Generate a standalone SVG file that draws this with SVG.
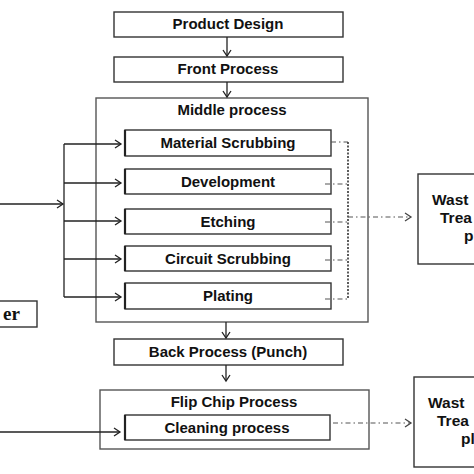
<svg xmlns="http://www.w3.org/2000/svg" width="474" height="474" viewBox="0 0 474 474">
<style>
.box{fill:#fff;stroke:#333;stroke-width:1.4}
.outer{fill:#fff;stroke:#555;stroke-width:1.4}
.t{font-family:"Liberation Sans",Arial,sans-serif;font-weight:bold;font-size:15px;fill:#111;text-anchor:middle}
.w{font-family:"Liberation Sans",Arial,sans-serif;font-weight:bold;font-size:15.5px;fill:#111}
.ln{fill:none;stroke:#222;stroke-width:1.3}
.dd{fill:none;stroke:#555;stroke-width:1.2;stroke-dasharray:5 3 1.5 3}
.dot{fill:none;stroke:#333;stroke-width:1.6;stroke-dasharray:2 1.5}
</style>
<defs>
<marker id="ah" markerWidth="10" markerHeight="10" refX="8" refY="5" orient="auto" markerUnits="userSpaceOnUse">
<path d="M2,1 L8,5 L2,9" fill="none" stroke="#222" stroke-width="1.3"/>
</marker>
<marker id="ahg" markerWidth="10" markerHeight="10" refX="8" refY="5" orient="auto" markerUnits="userSpaceOnUse">
<path d="M2,1 L8,5 L2,9" fill="none" stroke="#444" stroke-width="1.3"/>
</marker>
</defs>
<rect width="474" height="474" fill="#fff"/>

<g id="product-design"><rect class="box" x="114" y="12" width="229" height="25"/><text class="t" x="228" y="29">Product  Design</text></g>
<g id="front-process"><rect class="box" x="114" y="57" width="229" height="25"/><text class="t" x="228" y="74">Front  Process</text></g>
<g id="middle-process"><rect class="outer" x="96" y="98" width="272" height="224"/><text class="t" x="232" y="115">Middle process</text></g>
<g id="material-scrubbing"><rect class="box" x="125" y="130" width="206" height="26"/><line x1="125" y1="130" x2="125" y2="156" stroke="#222" stroke-width="2.2"/><text class="t" x="228" y="148">Material Scrubbing</text></g>
<g id="development"><rect class="box" x="125" y="169" width="206" height="25"/><line x1="125" y1="169" x2="125" y2="194" stroke="#222" stroke-width="2.2"/><text class="t" x="228" y="186.5">Development</text></g>
<g id="etching"><rect class="box" x="125" y="209" width="206" height="25"/><line x1="125" y1="209" x2="125" y2="234" stroke="#222" stroke-width="2.2"/><text class="t" x="228" y="226.5">Etching</text></g>
<g id="circuit-scrubbing"><rect class="box" x="125" y="246" width="206" height="25"/><line x1="125" y1="246" x2="125" y2="271" stroke="#222" stroke-width="2.2"/><text class="t" x="228" y="263.5">Circuit Scrubbing</text></g>
<g id="plating"><rect class="box" x="125" y="283" width="206" height="26"/><line x1="125" y1="283" x2="125" y2="309" stroke="#222" stroke-width="2.2"/><text class="t" x="228" y="301">Plating</text></g>
<g id="back-process"><rect class="box" x="114" y="339" width="229" height="26"/><text class="t" x="228" y="357">Back  Process (Punch)</text></g>
<g id="flip-chip"><rect class="outer" x="100" y="390" width="269" height="59"/><text class="t" x="234" y="407">Flip  Chip Process</text></g>
<g id="cleaning"><rect class="box" x="125" y="415" width="205" height="25"/><line x1="125" y1="415" x2="125" y2="440" stroke="#222" stroke-width="2.2"/><text class="t" x="227" y="432.5">Cleaning process</text></g>
<g id="water"><rect class="box" x="-10" y="301" width="47" height="26"/><text x="3" y="320" font-family="'Liberation Serif',serif" font-weight="bold" font-size="19" fill="#111">er</text></g>
<g id="waste-1"><rect class="box" x="418" y="174" width="70" height="90"/><text class="w" x="432" y="205">Wast</text><text class="w" x="440" y="223">Trea</text><text class="w" x="464" y="241">p</text></g>
<g id="waste-2"><rect class="box" x="414" y="377" width="70" height="90"/><text class="w" x="428" y="408">Wast</text><text class="w" x="437" y="426">Trea</text><text class="w" x="461" y="444">pl</text></g>

<g id="connectors">
<line class="ln" x1="227" y1="37" x2="227" y2="56" marker-end="url(#ah)"/>
<line class="ln" x1="227" y1="82" x2="227" y2="97" marker-end="url(#ah)"/>
<line class="ln" x1="226" y1="322" x2="226" y2="338" marker-end="url(#ah)"/>
<line class="ln" x1="226" y1="365" x2="226" y2="381" marker-end="url(#ah)"/>
<line class="ln" x1="64" y1="144" x2="64" y2="297"/>
<line class="ln" x1="64" y1="144" x2="121" y2="144" marker-end="url(#ah)"/>
<line class="ln" x1="64" y1="183" x2="121" y2="183" marker-end="url(#ah)"/>
<line class="ln" x1="64" y1="221" x2="121" y2="221" marker-end="url(#ah)"/>
<line class="ln" x1="64" y1="259" x2="121" y2="259" marker-end="url(#ah)"/>
<line class="ln" x1="64" y1="297" x2="121" y2="297" marker-end="url(#ah)"/>
<line class="ln" x1="0" y1="204" x2="63" y2="204" marker-end="url(#ah)"/>
<line class="ln" x1="0" y1="432" x2="120" y2="432" marker-end="url(#ah)"/>
<line class="dd" x1="331" y1="142" x2="348" y2="142"/>
<line class="dd" x1="325" y1="184" x2="348" y2="184"/>
<line class="dd" x1="325" y1="222" x2="348" y2="222"/>
<line class="dd" x1="325" y1="260" x2="348" y2="260"/>
<line class="dd" x1="325" y1="299" x2="348" y2="299"/>
<line class="dot" x1="348" y1="142" x2="348" y2="299"/>
<line class="dd" x1="348" y1="217" x2="411" y2="217" marker-end="url(#ahg)"/>
<line class="dd" x1="333" y1="423" x2="411" y2="423" marker-end="url(#ahg)"/>
</g>
</svg>
